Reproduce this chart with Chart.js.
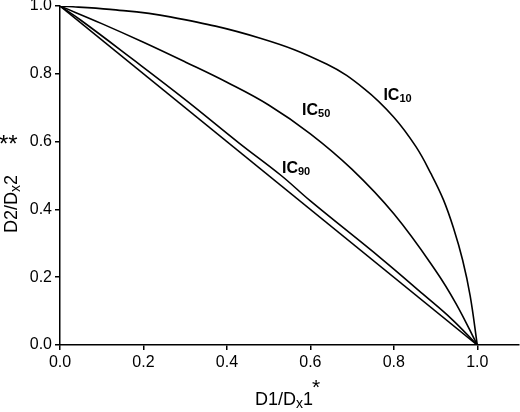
<!DOCTYPE html>
<html lang="en">
  <head>
    <meta charset="UTF-8" />
    <title>Isobologram</title>
    <script src="https://cdn.jsdelivr.net/npm/chart.js"></script>
    <style>
      html, body { margin: 0; padding: 0; background: #fff; }
      #wrap { width: 520px; height: 412px; position: relative; }
    </style>
  </head>
  <body>
    <div id="wrap"><canvas id="isoChart"></canvas></div>

    <script>
      // tick labels
      const xTicks = [0, 0.2, 0.4, 0.6, 0.8, 1.0];
      const yTicks = [0, 0.2, 0.4, 0.6, 0.8, 1.0];

      // additive line
      const addX = [0, 1];
      const addY = [1, 0];

      // IC10 isobole
      const ic10X = [0, 0.12, 0.264, 0.48, 0.64, 0.73, 0.8, 0.853, 0.89, 0.919, 0.943, 0.965, 0.983, 1];
      const ic10Y = [1, 0.99, 0.968, 0.905, 0.828, 0.755, 0.672, 0.585, 0.503, 0.428, 0.345, 0.25, 0.145, 0];

      // IC50 isobole
      const ic50X = [0, 0.1, 0.2, 0.3, 0.4, 0.5, 0.6, 0.7, 0.8, 0.9, 0.95, 1];
      const ic50Y = [1, 0.948, 0.893, 0.835, 0.775, 0.708, 0.623, 0.518, 0.387, 0.22, 0.12, 0];

      // IC90 isobole
      const ic90X = [0, 0.05, 0.17, 0.3, 0.43, 0.53, 0.6, 0.77, 0.87, 0.94, 1];
      const ic90Y = [1, 0.958, 0.847, 0.724, 0.595, 0.5, 0.425, 0.255, 0.15, 0.075, 0];

      // curve labels
      const labelSub = ["10", "50", "90"];
      const labelX = [0.775, 0.58, 0.532];
      const labelY = [0.723, 0.678, 0.508];

      const FONT = "'Liberation Sans', Arial, Helvetica, sans-serif";

      function pts(xs, ys) {
        return xs.map((v, i) => ({ x: v, y: ys[i] }));
      }

      function line(xs, ys, smooth) {
        return {
          data: pts(xs, ys),
          borderColor: "#000",
          borderWidth: 1.6,
          pointRadius: 0,
          fill: false,
          tension: smooth ? 0.4 : 0,
        };
      }

      // draw a run of text pieces, each with its own size and offset
      function drawRich(ctx, parts, x, y) {
        let cx = x;
        parts.forEach((p) => {
          ctx.font = (p.bold ? "bold " : "") + p.size + "px " + FONT;
          ctx.fillText(p.t, cx, y + (p.dy || 0));
          cx += ctx.measureText(p.t).width;
        });
      }

      const labelPlugin = {
        id: "isoLabels",
        afterDraw(chart) {
          const ctx = chart.ctx;
          const xs = chart.scales.x;
          const ys = chart.scales.y;
          const area = chart.chartArea;
          ctx.save();
          ctx.fillStyle = "#000";
          ctx.textBaseline = "alphabetic";
          ctx.textAlign = "left";

          labelSub.forEach((s, i) => {
            drawRich(
              ctx,
              [
                { t: "IC", size: 16, bold: true },
                { t: s, size: 11, bold: true, dy: 2 },
              ],
              xs.getPixelForValue(labelX[i]),
              ys.getPixelForValue(labelY[i])
            );
          });

          // x axis title
          const bx = area.left + 195;
          const by = area.bottom + 60;
          drawRich(
            ctx,
            [
              { t: "D1/D", size: 18 },
              { t: "x", size: 14, dy: 3 },
              { t: "1", size: 18 },
            ],
            bx,
            by
          );
          ctx.font = "21px " + FONT;
          ctx.fillText("*", bx + 57, by - 11);

          // y axis title
          ctx.save();
          ctx.translate(area.left - 43, area.top + 227);
          ctx.rotate(-Math.PI / 2);
          drawRich(
            ctx,
            [
              { t: "D2/D", size: 18 },
              { t: "x", size: 14, dy: 3 },
              { t: "2", size: 18 },
            ],
            0,
            0
          );
          ctx.restore();
          ctx.font = "24px " + FONT;
          ctx.fillText("**", area.left - 61, area.top + 146);

          ctx.restore();
        },
      };

      function axis(min, max, ticks, fit) {
        return {
          type: "linear",
          min: min,
          max: max,
          afterBuildTicks: (s) => {
            s.ticks = ticks.map((v) => ({ value: v }));
          },
          afterFit: (s) => {
            fit(s);
            s.paddingTop = 0;
            s.paddingBottom = 0;
            s.paddingLeft = 0;
            s.paddingRight = 0;
          },
          ticks: {
            color: "#000",
            padding: 3,
            font: { family: FONT, size: 16 },
            callback: (v) => Number(v).toFixed(1),
          },
          grid: {
            drawOnChartArea: false,
            color: "#000",
            lineWidth: 1.5,
            tickLength: 5,
          },
          border: { display: true, color: "#000", width: 1.5 },
        };
      }

      new Chart(document.getElementById("isoChart"), {
        type: "line",
        data: {
          datasets: [
            line(addX, addY, false),
            line(ic90X, ic90Y, true),
            line(ic50X, ic50Y, true),
            line(ic10X, ic10Y, true),
          ],
        },
        options: {
          responsive: true,
          maintainAspectRatio: false,
          animation: false,
          layout: { padding: { top: 6, right: 1, left: 0, bottom: 0 } },
          plugins: {
            legend: { display: false },
            tooltip: { enabled: false },
          },
          scales: {
            x: axis(0, 1.1, xTicks, (s) => {
              s.height = 67;
            }),
            y: axis(0, 1, yTicks, (s) => {
              s.width = 60;
            }),
          },
        },
        plugins: [labelPlugin],
      });
    </script>
  </body>
</html>
